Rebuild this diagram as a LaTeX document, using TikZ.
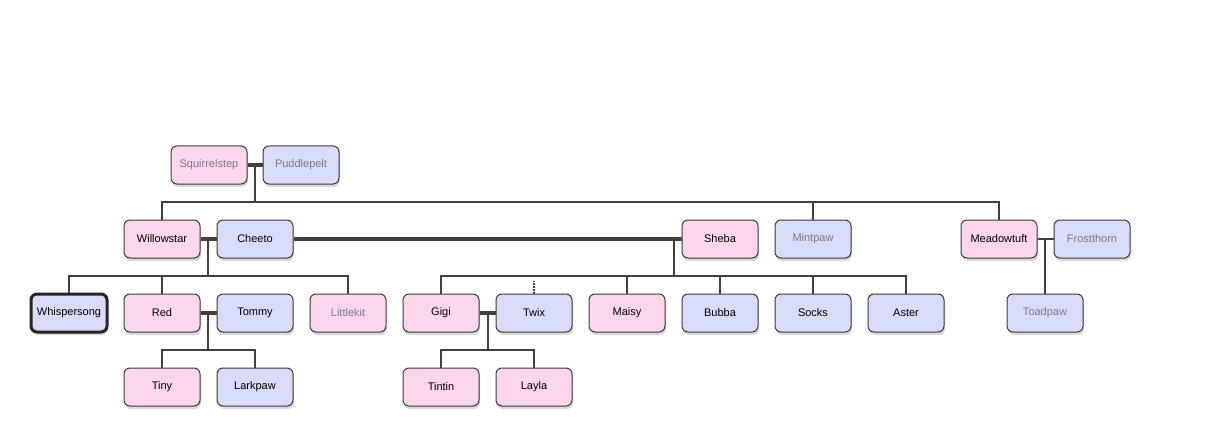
\documentclass[tikz,border=0pt]{standalone}
\usepackage{fontspec}
\setmainfont{Liberation Sans}
\usetikzlibrary{shadows}
\definecolor{pk}{HTML}{FCD6EC}
\definecolor{bl}{HTML}{D8DCFA}
\definecolor{ln}{HTML}{404040}
\definecolor{gt}{HTML}{7A7A86}
\begin{document}
\begin{tikzpicture}[x=1pt,y=-1pt,
 box/.style={draw=ln!90!black,line width=1pt,rounded corners=6pt,minimum width=76pt,minimum height=38pt,font=\fontsize{11}{13}\selectfont,drop shadow={shadow xshift=1pt,shadow yshift=-3pt,opacity=0.25,fill=black!60}},
 f/.style={box,fill=pk}, m/.style={box,fill=bl}, g/.style={text=gt},
 cp/.style={ln,line width=4pt}, ch/.style={ln,line width=1.6pt}]
\useasboundingbox (0,0) rectangle (1213,433);
\node[f,g] (sq) at (209,165) {Squirrelstep};
\node[m,g] (pu) at (301,165) {Puddlepelt};
\node[f] (wi) at (162,239) {Willowstar};
\node[m] (ce) at (255,239) {Cheeto};
\node[f] (sh) at (720,239) {Sheba};
\node[m,g] (mi) at (813,239) {Mintpaw};
\node[f] (me) at (999,239) {Meadowtuft};
\node[m,g] (fr) at (1092,239) {Frostthorn};
\node[m,line width=3pt,draw=black!85] (wh) at (69,313) {Whispersong};
\node[f] (re) at (162,313) {Red};
\node[m] (to) at (255,313) {Tommy};
\node[f,g] (li) at (348,313) {Littlekit};
\node[f] (gi) at (441,313) {Gigi};
\node[m] (tw) at (534,313) {Twix};
\node[f] (ma) at (627,313) {Maisy};
\node[m] (bu) at (720,313) {Bubba};
\node[m] (so) at (813,313) {Socks};
\node[m] (as) at (906,313) {Aster};
\node[m,g] (ta) at (1045,313) {Toadpaw};
\node[f] (ti) at (162,387) {Tiny};
\node[m] (la) at (255,387) {Larkpaw};
\node[f] (tn) at (441,387) {Tintin};
\node[f] (ly) at (534,387) {Layla};
% couples
\draw[cp] (sq.east) -- (pu.west);
\draw[cp] (wi.east) -- (ce.west);
\draw[cp] (ce.east) -- (sh.west);
\draw[cp] (re.east) -- (to.west);
\draw[cp] (gi.east) -- (tw.west);
\draw[ch] (me.east) -- (fr.west);
% children
\draw[ch] (255,165) -- (255,202);
\draw[ch] (wi.north) |- (255,202) -| (me.north);
\draw[ch] (mi.north) -- (813,202);
\draw[ch] (208,239) -- (208,276);
\draw[ch] (wh.north) |- (li.north |- 0,276) -- (li.north);
\draw[ch] (re.north) -- (162,276);
\draw[ch] (674,239) -- (674,276);
\draw[ch] (gi.north) |- (906,276) -- (as.north);
\draw[ch] (ma.north) -- (627,276);
\draw[ch] (bu.north) -- (720,276);
\draw[ch] (so.north) -- (813,276);
\draw[ch,dash pattern=on 1.5pt off 1.5pt] (tw.north) -- (534,281);
\draw[ch] (1045,239) -- (ta.north);
\draw[ch] (208,313) -- (208,350);
\draw[ch] (ti.north) |- (la.north |- 0,350) -- (la.north);
\draw[ch] (488,313) -- (488,350);
\draw[ch] (tn.north) |- (ly.north |- 0,350) -- (ly.north);
\end{tikzpicture}
\end{document}
